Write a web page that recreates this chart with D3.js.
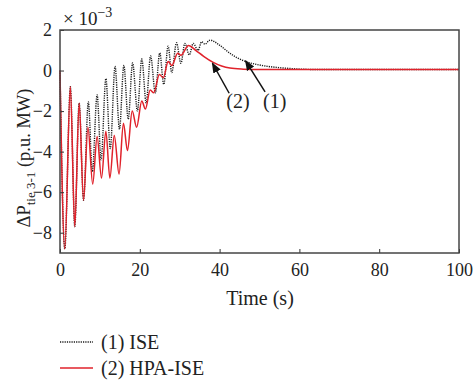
<!DOCTYPE html>
<html><head><meta charset="utf-8">
<script src="https://cdn.jsdelivr.net/npm/d3@7"></script>
<style>body{margin:0;background:#fff}svg{display:block}text{font-family:"Liberation Serif","DejaVu Serif",serif;fill:#222}</style>
</head><body><svg id="c" width="474" height="382"></svg>
<script>
const xTicks = [0,20,40,60,80,100];
const yTicks = [2,0,-2,-4,-6,-8];
const seriesNames = ["(1) ISE","(2) HPA-ISE"];
// ISE (black dotted): [time s, value x1e-3]
const iseT = [0,1.2,2.6,3.7,4.8,5.9,7.1,8.1,9.3,10.3,11.5,12.6,13.8,14.9,16.0,17.1,18.2,19.4,20.5,21.6,22.7,23.9,25.0,26.0,27.1,28.0,29.2,30.3,31.3,32.4,33.4,34.6,35.5,36.3,37.6,40,42.6,44.5,46.8,50.9,55.1,59.3,65,100];
const iseV = [0,-8.8,-0.8,-7.7,-1.6,-6.4,-1.55,-5.0,-1.2,-4.4,-0.4,-3.85,0.2,-2.9,0.25,-2.4,0.37,-2.0,0.57,-1.6,0.72,-1.1,0.87,-0.68,1.2,-0.1,1.37,0.36,1.34,0.77,1.34,1.0,1.42,1.3,1.5,1.25,0.85,0.62,0.43,0.24,0.14,0.08,0.05,0.05];
// HPA-ISE (red)
const hpaT = [0,1.2,2.6,3.7,4.8,5.9,7.0,8.2,9.3,10.4,11.5,12.5,13.6,14.8,15.9,16.9,18.1,19.2,20.5,21.4,22.6,23.5,24.9,25.9,27.1,28.0,29.5,30.3,32.2,34,36,38.4,40.5,42.6,46,50,100];
const hpaV = [0,-8.8,-0.8,-7.7,-1.6,-6.4,-2.8,-5.6,-3.25,-5.3,-3.0,-5.3,-3.2,-5.1,-2.6,-3.95,-2.0,-2.8,-1.5,-1.9,-0.96,-1.1,-0.2,-0.35,0.45,0.25,0.85,0.75,1.24,1.0,0.7,0.4,0.22,0.12,0.07,0.05,0.05];
// annotations: [tipT, tipV, tailT, tailV, labelT, labelV, text]
const notes = [[38.2,0.36,42.4,-1.12,44.6,-1.85,"(2)"],[46.5,0.48,51.4,-1.05,53.8,-1.85,"(1)"]];

const svg = d3.select("#c");
const L=60,R=459,T=30,B=253;
const x = d3.scaleLinear().domain([0,100]).range([L,R]);
const y = d3.scaleLinear().domain([-9,2]).range([B,T]);

const g = svg.append("g");
const line = d3.line().x(d=>x(d[0])).y(d=>y(d[1])).curve(d3.curveMonotoneX);
const ise = iseT.map((t,i)=>[t,iseV[i]]);
const hpa = hpaT.map((t,i)=>[t,hpaV[i]]);
g.append("path").attr("d",line(ise)).attr("fill","none").attr("stroke","#1a1a1a").attr("stroke-width",1.4).attr("stroke-dasharray","1.2,1.1");
g.append("path").attr("d",line(hpa)).attr("fill","none").attr("stroke","#e0222b").attr("stroke-width",1.5);

// axes
const xa = svg.append("g").attr("transform",`translate(0,${B})`).call(d3.axisBottom(x).tickValues(xTicks).tickSizeInner(-4).tickSizeOuter(0).tickPadding(10));
const ya = svg.append("g").attr("transform",`translate(${L},0)`).call(d3.axisLeft(y).tickValues(yTicks).tickSizeInner(-4).tickSizeOuter(0).tickPadding(8).tickFormat(d=>d<0?"\u2212"+Math.abs(d):d));
[xa,ya].forEach(a=>{a.select(".domain").remove();a.selectAll("line").attr("stroke","#333");a.selectAll("text").attr("font-size",18).attr("fill","#222").style("font-family",'"Liberation Serif",serif');});
svg.append("rect").attr("x",L).attr("y",T).attr("width",R-L).attr("height",B-T).attr("fill","none").attr("stroke","#444").attr("stroke-width",1.5);

// multiplier
const mt = svg.append("text").attr("x",63).attr("y",25).attr("font-size",19);
mt.append("tspan").text("\u00d7 10");
mt.append("tspan").attr("dy",-8).attr("font-size",14).text("\u22123");

// y title
const yt = svg.append("text").attr("transform","translate(30,158) rotate(-90)").attr("text-anchor","middle").attr("font-size",18.5);
yt.append("tspan").text("\u0394P");
yt.append("tspan").attr("dy",5).attr("font-size",13).text("tie 3-1");
yt.append("tspan").attr("dy",-5).text(" (p.u. MW)");

// x title
svg.append("text").attr("x",260).attr("y",305).attr("text-anchor","middle").attr("font-size",20).text("Time (s)");

// annotations
svg.append("defs").append("marker").attr("id","ah").attr("viewBox","0 0 10 10").attr("refX",9).attr("refY",5).attr("markerWidth",7).attr("markerHeight",7).attr("orient","auto").append("path").attr("d","M0,1 L10,5 L0,9 z").attr("fill","#111");
notes.forEach(n=>{
  svg.append("line").attr("x1",x(n[2])).attr("y1",y(n[3])).attr("x2",x(n[0])).attr("y2",y(n[1])).attr("stroke","#111").attr("stroke-width",1.5).attr("marker-end","url(#ah)");
  svg.append("text").attr("x",x(n[4])).attr("y",y(n[5])).attr("text-anchor","middle").attr("font-size",20).text(n[6]);
});

// legend
const lg = svg.append("g");
[[342,"#1a1a1a","1.2,1.1",1.3],[368,"#e0222b",null,1.5]].forEach((s,i)=>{
  const l = lg.append("line").attr("x1",60).attr("x2",93).attr("y1",s[0]).attr("y2",s[0]).attr("stroke",s[1]).attr("stroke-width",s[3]);
  if(s[2]) l.attr("stroke-dasharray",s[2]);
  lg.append("text").attr("x",101).attr("y",s[0]+7).attr("font-size",20).text(seriesNames[i]);
});
</script></body></html>
